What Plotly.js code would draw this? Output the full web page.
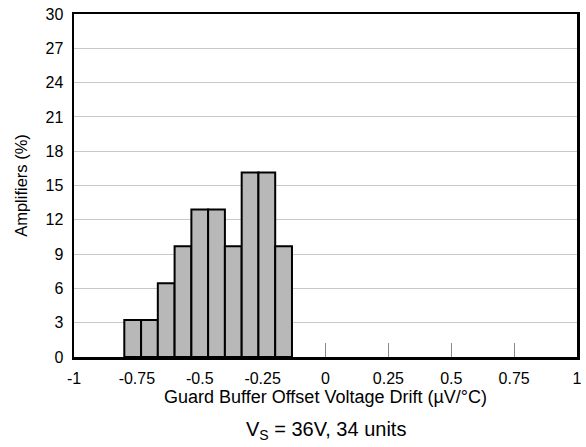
<!DOCTYPE html>
<html>
<head>
<meta charset="utf-8">
<script src="https://cdn.plot.ly/plotly-3.0.1.min.js"></script>
<style>html,body{margin:0;padding:0;background:#fff;}#chart{width:586px;height:447px;}</style>
</head>
<body>
<div id="chart"></div>
<script>
// Histogram bins (left edges, µV/°C) and bin width
const binLeft = [-0.8, -0.7333, -0.6667, -0.6, -0.5333, -0.4667, -0.4, -0.3333, -0.2667, -0.2];
const binWidth = 0.0667;
// Percentage of amplifiers in each bin
const percent = [3.23, 3.23, 6.45, 9.68, 12.9, 12.9, 9.68, 16.13, 16.13, 9.68];

const xTicks = [-1, -0.75, -0.5, -0.25, 0, 0.25, 0.5, 0.75, 1];
const xTickText = ['-1', '-0.75', '-0.5', '-0.25', '0', '0.25', '0.5', '0.75', '1'];
const yTicks = [0, 3, 6, 9, 12, 15, 18, 21, 24, 27, 30];

const fam = 'Liberation Sans, Arial, sans-serif';
const tickFont = {family: fam, size: 16, color: '#000'};
const xTitleFont = {family: fam, size: 18, color: '#000'};
const yTitleFont = {family: fam, size: 16.5, color: '#000'};

const bars = {
  type: 'bar',
  x: binLeft,
  y: percent,
  xaxis: 'x', yaxis: 'y',
  width: binLeft.map(() => binWidth),
  offset: 0,
  marker: {color: '#b8b8b8', line: {color: '#000', width: 2}},
  hoverinfo: 'x+y'
};
// invisible companion trace so the label axis (x2) is drawn
const labelCarrier = {
  type: 'scatter', mode: 'markers',
  x: binLeft, y: percent,
  xaxis: 'x2', yaxis: 'y',
  marker: {opacity: 0},
  hoverinfo: 'skip', showlegend: false
};

const layout = {
  width: 586, height: 447,
  margin: {l: 74, r: 9, t: 14, b: 90},
  paper_bgcolor: '#fff', plot_bgcolor: '#fff',
  font: tickFont,
  showlegend: false,
  bargap: 0,
  xaxis: {
    range: [-1, 1],
    tickvals: xTicks,
    ticks: 'inside', ticklen: 14, tickcolor: '#888', tickwidth: 1,
    showticklabels: false,
    layer: 'below traces',
    showgrid: false, zeroline: false,
    showline: true, linecolor: '#000', linewidth: 2.5, mirror: true
  },
  xaxis2: {
    overlaying: 'x', anchor: 'y', side: 'bottom',
    range: [-1, 1],
    tickvals: xTicks, ticktext: xTickText,
    ticks: 'outside', ticklen: 7, tickcolor: 'rgba(0,0,0,0)',
    showgrid: false, zeroline: false, showline: false,
    tickfont: tickFont,
    title: {text: 'Guard Buffer Offset Voltage Drift (\u00b5V/\u00b0C)', font: xTitleFont, standoff: 0}
  },
  yaxis: {
    range: [0, 30],
    tickvals: yTicks,
    ticks: '',
    ticklabelstandoff: 5,
    layer: 'below traces',
    showgrid: true, gridcolor: '#c8c8c8', gridwidth: 1,
    zeroline: false,
    showline: true, linecolor: '#000', linewidth: 2.5, mirror: true,
    tickfont: tickFont,
    title: {text: 'Amplifiers (%)', font: yTitleFont, standoff: 14}
  },
  annotations: [{
    text: 'V<sub>S</sub> = 36V, 34 units',
    xref: 'paper', yref: 'paper', x: 0.5, y: -0.215, yanchor: 'middle', xanchor: 'center',
    showarrow: false, font: {family: fam, size: 20, color: '#000'}
  }]
};

Plotly.newPlot('chart', [bars, labelCarrier], layout, {displayModeBar: false, staticPlot: true});
</script>
</body>
</html>
